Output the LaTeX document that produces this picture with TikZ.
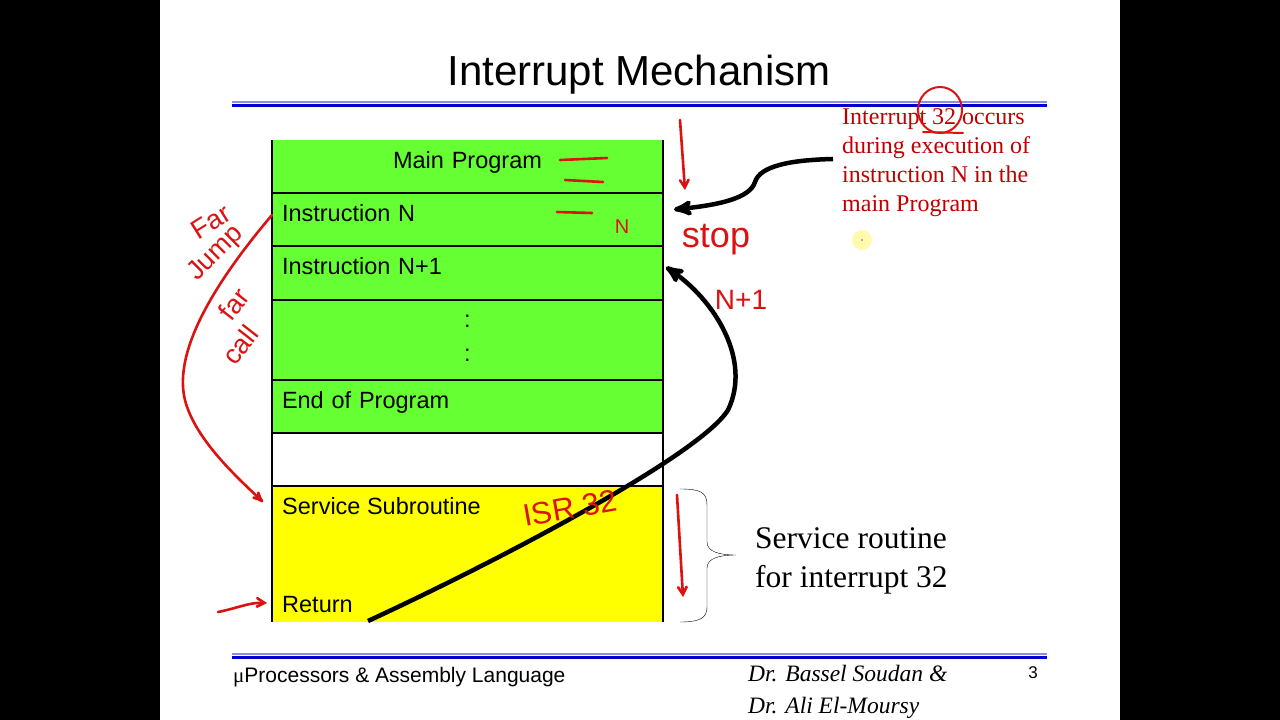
\documentclass[tikz,border=0pt]{standalone}
\usepackage{fontspec}
\setmainfont{Liberation Serif}
\setsansfont{Liberation Sans}
\usepackage{tikz}
\usetikzlibrary{arrows,positioning}
\definecolor{progGreen}{RGB}{102,255,51}
\definecolor{isrYellow}{RGB}{255,255,0}
\definecolor{noteRed}{RGB}{192,0,0}
\definecolor{penRed}{RGB}{220,18,18}
\definecolor{ruleDark}{RGB}{0,0,204}
\definecolor{ruleLight}{RGB}{140,140,230}

\begin{document}
\begin{tikzpicture}[x=1pt, y=-1pt,
					row/.style={minimum width=391pt, inner sep=0pt, outer sep=0pt, text width=371pt, align=left,
						text height=10pt, text depth=7pt, font=\sffamily\fontsize{23.5}{28}\selectfont},
					lbl/.style={inner sep=0pt, font=\sffamily\fontsize{23.5}{28}\selectfont},
					sep/.style={draw=black, line width=1.4pt},
					side/.style={draw=black, line width=2.6pt},
					bigarrow/.style={->, >=stealth', line width=4.5pt},
					pen/.style={draw=penRed, line width=2.6pt, line cap=round},
					penarrow/.style={pen, ->, >=stealth'},
					penvee/.style={pen, -angle 60},
					pentext/.style={text=penRed, inner sep=0pt, font=\sffamily\fontsize{27}{27}\selectfont}]
	\useasboundingbox (0,0) rectangle (1280,720);
	\fill[black] (0,0) rectangle (160,720);
	\fill[white] (160,0) rectangle (1120,720);
	\fill[black] (1120,0) rectangle (1280,720);

	% title and rules
	\node[anchor=base, inner sep=0pt, font=\sffamily\fontsize{42}{50}\selectfont] (title) at (639,85) {Interrupt Mechanism};
	\draw[ruleLight, line width=2pt] (232,102) -- (1047,102);
	\draw[ruleDark, line width=3pt] (232,105.5) -- (1047,105.5);
	\draw[ruleLight, line width=2pt] (232,654) -- (1047,654);
	\draw[ruleDark, line width=3pt] (232,657.5) -- (1047,657.5);

	% memory map
	\node[row, fill=progGreen, minimum height=53pt, align=center] (main) at (467.5,166.5) {Main Program};
	\node[row, fill=progGreen, minimum height=53pt, below=0pt of main] (instN) {Instruction N};
	\node[row, fill=progGreen, minimum height=54pt, below=0pt of instN] (instN1) {Instruction N+1};
	\node[row, fill=progGreen, minimum height=80pt, below=0pt of instN1] (dots) {};
	\node[row, fill=progGreen, minimum height=53pt, below=0pt of dots] (endp) {End of Program};
	\node[row, minimum height=53pt, below=0pt of endp] (blank) {};
	\node[row, fill=isrYellow, minimum height=136pt, below=0pt of blank] (isr) {};
	\node[lbl] (colA) at ([yshift=19pt]dots.center) {:};
	\node[lbl] (colB) at ([yshift=-15pt]dots.center) {:};
	\node[lbl, anchor=base west] (svc) at ([xshift=10pt, yshift=-28pt]isr.north west) {Service Subroutine};
	\node[lbl, anchor=base west] (ret) at ([xshift=10pt, yshift=10pt]isr.south west) {Return};
	\foreach \r in {main,instN,instN1,dots,endp,blank}
		\draw[sep] (\r.south west) -- (\r.south east);
	\draw[side] (main.north west) -- (isr.south west);
	\draw[side] (main.north east) -- (isr.south east);

	% notes (base = last line)
	\node[anchor=base west, inner sep=0pt, align=left, text=noteRed, font=\fontsize{24}{29}\selectfont] (note) at (842,211)
		{Interrupt 32 occurs\\during execution of\\instruction N in the\\main Program};
	\node[anchor=base west, inner sep=0pt, align=left, font=\fontsize{31.5}{39}\selectfont] (svcNote) at (755,587)
		{Service routine\\for interrupt 32};
	\draw[thin] ([xshift=17pt, yshift=-3pt]isr.north east) .. controls (700,489) and (707,492) .. (707,505) -- (707,542)
		.. controls (707,552) and (720,555) .. (736,555) .. controls (720,555) and (707,558) .. (707,568) -- (707,607)
		.. controls (707,618) and (700,622) .. ([xshift=17pt]isr.south east);

	% footer
	\node[anchor=base west, inner sep=0pt, font=\sffamily\fontsize{21}{25}\selectfont] (course) at (233,682)
		{{\rmfamily μ}Processors \& Assembly Language};
	\node[anchor=base west, inner sep=0pt, align=left, font=\itshape\fontsize{23.5}{32}\selectfont] (authors) at (748,713)
		{Dr. Bassel Soudan \&\\Dr. Ali El-Moursy};
	\node[inner sep=0pt, font=\sffamily\fontsize{17}{20}\selectfont] (pageNo) at (1033,673) {3};

	% interrupt and return
	\coordinate (irq) at (833,159);
	\coordinate (iret) at (368,621);
	\draw[bigarrow] (irq) .. controls (790,160) and (760,166) .. (755,182) .. controls (750,198) and (720,205) .. ([xshift=11pt, yshift=10pt]instN.east);
	\draw[bigarrow] (iret) .. controls (500,560) and (700,455) .. (728,410) .. controls (752,360) and (715,300) .. ([xshift=3pt, yshift=6pt]instN1.east);

	% pen annotations
	\draw[penarrow] ([yshift=4.5pt]instN.west) .. controls (200,300) and (175,360) .. (185,400) .. controls (195,440) and (240,480) .. ([xshift=-9pt, yshift=-16pt]isr.north west);
	\node[pentext, rotate=32] (far1) at (211,222) {Far};
	\node[pentext, rotate=45] (jump) at (216,254) {Jump};
	\node[pentext, rotate=52] (far2) at (234,304) {far};
	\node[pentext, rotate=52] (call) at (240,345) {call};
	\draw[pen] (560,160) -- (607,158);
	\draw[pen] (565,180) -- (603,182);
	\draw[pen] (557,212) -- (592,213);
	\node[pentext, font=\sffamily\fontsize{20}{20}\selectfont] (markN) at (622,227) {N};
	\coordinate (stopTop) at (680,120);
	\draw[penvee] (stopTop) -- ([xshift=22pt, yshift=3pt]main.south east);
	\node[pentext, font=\sffamily\fontsize{36}{36}\selectfont] (stop) at (716,240) {stop};
	\node[pentext, font=\sffamily\fontsize{28}{28}\selectfont] (markN1) at (741,300) {N+1};
	\node[pentext, rotate=10, font=\sffamily\fontsize{31}{31}\selectfont] (isrMark) at (570,508) {ISR 32};
	\draw[penvee] ([xshift=14pt, yshift=-9pt]isr.north east) -- ([xshift=20pt, yshift=25pt]isr.south east);
	\coordinate (retTail) at (218,612);
	\draw[penvee] (retTail) .. controls (238,608) and (250,602) .. ([xshift=-5pt, yshift=19pt]isr.south west);
	\draw[pen, line width=2pt] (940,110) ellipse (22pt and 23pt);
	\draw[pen, line width=2pt] (923,132) -- (963,133);
	\fill[yellow!70, opacity=0.45] (862,240) circle (10pt);
	\fill[black!60] (862,240) circle (0.8pt);
\end{tikzpicture}
\end{document}
